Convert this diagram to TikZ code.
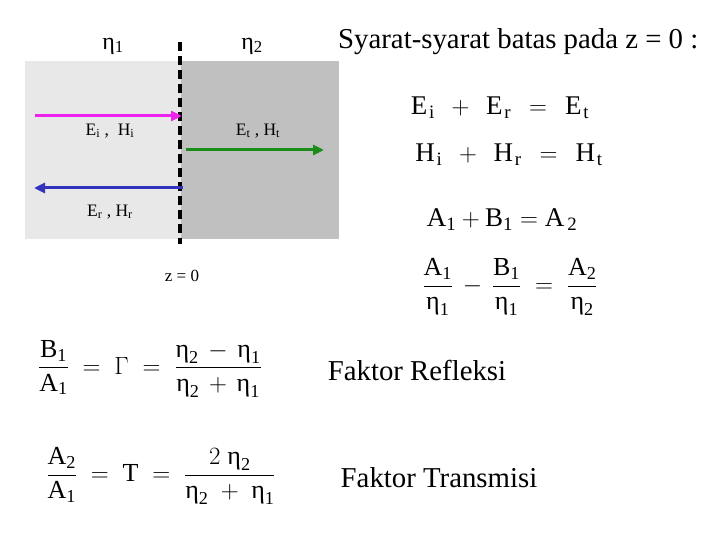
\documentclass[tikz,border=0pt]{standalone}
\usepackage{amsmath}
\usepackage{fontspec}
\setmainfont{Liberation Serif}
\usetikzlibrary{arrows.meta}
\newcommand{\tx}[1]{\text{#1}}
\definecolor{lgray}{HTML}{E8E8E8}
\definecolor{dgray}{HTML}{C0C0C0}
\definecolor{magen}{HTML}{EE22EE}
\definecolor{grn}{HTML}{1A8C1A}
\definecolor{blu}{HTML}{3333BB}
\tikzset{
  wave/.style={line width=3pt,-{Triangle[length=11pt,width=10pt]}},
  small/.style={font=\fontsize{17.5}{20}\selectfont,inner sep=0pt},
  big/.style={font=\fontsize{27}{31}\selectfont,inner sep=0pt},
  frac/.style={font=\fontsize{26}{30}\selectfont,inner sep=0pt},
  med/.style={font=\fontsize{28.8}{32}\selectfont,inner sep=0pt},
  eta/.style={font=\fontsize{24}{27}\selectfont,inner sep=0pt}
}
\begin{document}
\begin{tikzpicture}[x=1pt,y=-1pt]
\useasboundingbox (0,0) rectangle (720,540);
\fill[lgray] (25,61) rectangle (181,239);
\fill[dgray] (181,61) rectangle (339,239);
\coordinate (dtop) at (180,42);
\coordinate (dbot) at (180,244);
\draw[line width=3.5pt,dash pattern=on 9pt off 5pt] (dtop) -- (dbot);
\node[eta] (eta1) at (113,46) {η\textsubscript{1}};
\node[eta] (eta2) at (252,46) {η\textsubscript{2}};
\coordinate (mi) at (35,116); \coordinate (mo) at (182,116);
\draw[wave,magen] (mi) -- (mo);
\coordinate (gi) at (186,150); \coordinate (go) at (324,150);
\draw[wave,grn] (gi) -- (go);
\coordinate (bi) at (183,188); \coordinate (bo) at (34,188);
\draw[wave,blu] (bi) -- (bo);
\node[small] (li) at (110,131) {E\textsubscript{i} ,\ \ H\textsubscript{i}};
\node[small] (lt) at (258,131) {E\textsubscript{t} , H\textsubscript{t}};
\node[small] (lr) at (110,212) {E\textsubscript{r} , H\textsubscript{r}};
\node[small,font=\fontsize{17}{20}\selectfont] (z0) at (182,276) {z = 0};
\node[med,anchor=west] (syarat) at (338,42) {Syarat-syarat batas pada z = 0 :};
\node[big] (eqE) at (500,108) {$\tx{E}_{\mkern2mu\tx{i}}\;\,+\;\,\tx{E}_{\mkern2mu\tx{r}}\;\,=\;\,\tx{E}_{\mkern2mu\tx{t}}$};
\node[big] (eqH) at (509,155) {$\tx{H}_{\mkern2mu\tx{i}}\;\,+\;\,\tx{H}_{\mkern2mu\tx{r}}\;\,=\;\,\tx{H}_{\mkern2mu\tx{t}}$};
\node[big] (eqA) at (502,220) {$\tx{A}_{\tx{1}} + \tx{B}_{\tx{1}} = \tx{A}_{\,\tx{2}}$};
\node[frac] (eqF) at (510,287) {$\dfrac{\tx{A}_{\tx{1}}}{\tx{η}_{\tx{1}}}\,-\,\dfrac{\tx{B}_{\tx{1}}}{\tx{η}_{\tx{1}}}\;=\;\dfrac{\tx{A}_{\tx{2}}}{\tx{η}_{\tx{2}}}$};
\node[frac] (eqG) at (150,369) {$\dfrac{\tx{B}_{\tx{1}}}{\tx{A}_{\tx{1}}}\;=\;\Gamma\;=\;\dfrac{\tx{η}_{\tx{2}}\,-\,\tx{η}_{\tx{1}}}{\tx{η}_{\tx{2}}\,+\,\tx{η}_{\tx{1}}}$};
\node[frac] (eqT) at (161,476) {$\dfrac{\tx{A}_{\tx{2}}}{\tx{A}_{\tx{1}}}\;=\;\tx{T}\;=\;\dfrac{2\;\tx{η}_{\tx{2}}}{\tx{η}_{\tx{2}}\;+\;\tx{η}_{\tx{1}}}$};
\node[med] (fr) at (417,370) {Faktor Refleksi};
\node[med] (ft) at (439,478) {Faktor Transmisi};
\end{tikzpicture}
\end{document}
